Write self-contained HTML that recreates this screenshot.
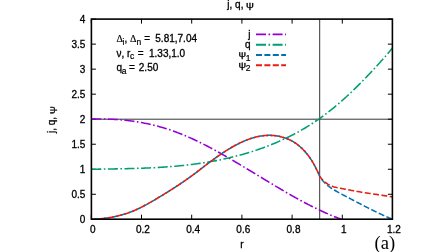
<!DOCTYPE html>
<html><head><meta charset="utf-8"><title>j, q, ψ</title>
<style>html,body{margin:0;padding:0;background:#fff;}svg{display:block;}text{font-family:"Liberation Sans",sans-serif;font-size:10px;fill:#000;stroke:#000;stroke-width:0.3px;}.sub{font-size:8.5px;stroke-width:0.2px;}.ser{font-family:"Liberation Serif",serif;stroke-width:0.15px;}</style></head><body>
<svg width="448" height="252" viewBox="0 0 448 252">
<rect width="448" height="252" fill="#fff"/>
<defs><clipPath id="cp"><rect x="-2" y="-5.7" width="12" height="10"/></clipPath></defs>
<path d="M91.30,219.2 v-4.5 M91.30,19.1 v4.5 M141.50,219.2 v-4.5 M141.50,19.1 v4.5 M191.70,219.2 v-4.5 M191.70,19.1 v4.5 M241.90,219.2 v-4.5 M241.90,19.1 v4.5 M292.10,219.2 v-4.5 M292.10,19.1 v4.5 M342.30,219.2 v-4.5 M342.30,19.1 v4.5 M392.50,219.2 v-4.5 M392.50,19.1 v4.5 M91.4,219.30 h4.5 M392.4,219.30 h-4.5 M91.4,194.28 h4.5 M392.4,194.28 h-4.5 M91.4,169.25 h4.5 M392.4,169.25 h-4.5 M91.4,144.23 h4.5 M392.4,144.23 h-4.5 M91.4,119.20 h4.5 M392.4,119.20 h-4.5 M91.4,94.18 h4.5 M392.4,94.18 h-4.5 M91.4,69.15 h4.5 M392.4,69.15 h-4.5 M91.4,44.13 h4.5 M392.4,44.13 h-4.5 M91.4,19.10 h4.5 M392.4,19.10 h-4.5" stroke="#000" stroke-width="1" fill="none"/>
<path d="M91.4,119.20 H392.4 M319.7,19.1 V219.2" stroke="#000" stroke-width="0.8" fill="none"/>
<g fill="none" stroke-width="1.55">
<path d="M91.30,119.21 L92.35,119.17 L93.39,119.14 L94.44,119.11 L95.49,119.09 L96.53,119.07 L97.58,119.05 L98.63,119.04 L99.67,119.03 L100.72,119.03 L101.77,119.03 L102.81,119.04 L103.86,119.05 L104.90,119.06 L105.95,119.08 L107.00,119.11 L108.04,119.13 L109.09,119.17 L110.14,119.20 L111.18,119.25 L112.23,119.29 L113.28,119.34 L114.32,119.40 L115.37,119.46 L116.42,119.52 L117.46,119.59 L118.51,119.67 L119.56,119.75 L120.60,119.83 L121.65,119.92 L122.70,120.01 L123.74,120.11 L124.79,120.22 L125.84,120.33 L126.88,120.44 L127.93,120.56 L128.98,120.68 L130.02,120.81 L131.07,120.95 L132.11,121.09 L133.16,121.23 L134.21,121.38 L135.25,121.54 L136.30,121.70 L137.35,121.86 L138.39,122.04 L139.44,122.21 L140.49,122.40 L141.53,122.58 L142.58,122.78 L143.63,122.98 L144.67,123.18 L145.72,123.39 L146.77,123.61 L147.81,123.83 L148.86,124.05 L149.91,124.29 L150.95,124.53 L152.00,124.77 L153.05,125.02 L154.09,125.28 L155.14,125.54 L156.19,125.81 L157.23,126.08 L158.28,126.36 L159.32,126.65 L160.37,126.94 L161.42,127.23 L162.46,127.54 L163.51,127.85 L164.56,128.16 L165.60,128.49 L166.65,128.82 L167.70,129.15 L168.74,129.49 L169.79,129.84 L170.84,130.19 L171.88,130.55 L172.93,130.92 L173.98,131.29 L175.02,131.67 L176.07,132.06 L177.12,132.45 L178.16,132.85 L179.21,133.25 L180.26,133.66 L181.30,134.08 L182.35,134.50 L183.39,134.93 L184.44,135.37 L185.49,135.81 L186.53,136.26 L187.58,136.71 L188.63,137.17 L189.67,137.63 L190.72,138.10 L191.77,138.57 L192.81,139.05 L193.86,139.53 L194.91,140.02 L195.95,140.52 L197.00,141.01 L198.05,141.52 L199.09,142.03 L200.14,142.54 L201.19,143.06 L202.23,143.58 L203.28,144.10 L204.33,144.63 L205.37,145.17 L206.42,145.71 L207.47,146.25 L208.51,146.80 L209.56,147.35 L210.60,147.90 L211.65,148.46 L212.70,149.02 L213.74,149.58 L214.79,150.15 L215.84,150.72 L216.88,151.29 L217.93,151.87 L218.98,152.45 L220.02,153.04 L221.07,153.62 L222.12,154.21 L223.16,154.80 L224.21,155.40 L225.26,155.99 L226.30,156.59 L227.35,157.20 L228.40,157.80 L229.44,158.41 L230.49,159.01 L231.54,159.63 L232.58,160.24 L233.63,160.85 L234.68,161.47 L235.72,162.09 L236.77,162.71 L237.81,163.33 L238.86,163.95 L239.91,164.57 L240.95,165.20 L242.00,165.83 L243.05,166.45 L244.09,167.08 L245.14,167.71 L246.19,168.34 L247.23,168.97 L248.28,169.61 L249.33,170.24 L250.37,170.87 L251.42,171.51 L252.47,172.14 L253.51,172.78 L254.56,173.41 L255.61,174.05 L256.65,174.68 L257.70,175.32 L258.75,175.96 L259.79,176.59 L260.84,177.23 L261.88,177.86 L262.93,178.50 L263.98,179.13 L265.02,179.77 L266.07,180.40 L267.12,181.03 L268.16,181.66 L269.21,182.30 L270.26,182.93 L271.30,183.56 L272.35,184.18 L273.40,184.81 L274.44,185.44 L275.49,186.06 L276.54,186.68 L277.58,187.31 L278.63,187.93 L279.68,188.54 L280.72,189.16 L281.77,189.78 L282.82,190.39 L283.86,191.00 L284.91,191.61 L285.96,192.22 L287.00,192.82 L288.05,193.43 L289.09,194.03 L290.14,194.62 L291.19,195.22 L292.23,195.81 L293.28,196.40 L294.33,196.99 L295.37,197.57 L296.42,198.16 L297.47,198.73 L298.51,199.31 L299.56,199.88 L300.61,200.45 L301.65,201.02 L302.70,201.58 L303.75,202.14 L304.79,202.69 L305.84,203.25 L306.89,203.80 L307.93,204.34 L308.98,204.88 L310.03,205.42 L311.07,205.95 L312.12,206.48 L313.17,207.00 L314.21,207.52 L315.26,208.04 L316.30,208.55 L317.35,209.06 L318.40,209.56 L319.44,210.06 L320.49,210.55 L321.54,211.04 L322.58,211.52 L323.63,212.00 L324.68,212.47 L325.72,212.94 L326.77,213.40 L327.82,213.86 L328.86,214.31 L329.91,214.76 L330.96,215.20 L332.00,215.63 L333.05,216.06 L334.10,216.49 L335.14,216.91 L336.19,217.32 L337.24,217.72 L338.28,218.12 L339.33,218.52 L340.37,218.90 L341.42,219.29" stroke="#9400d3" stroke-dasharray="10 2.5 1.6 2.5"/>
<path d="M91.30,169.25 L92.56,169.23 L93.82,169.22 L95.08,169.20 L96.34,169.18 L97.60,169.16 L98.86,169.14 L100.12,169.12 L101.38,169.10 L102.64,169.08 L103.90,169.07 L105.16,169.05 L106.42,169.03 L107.68,169.01 L108.94,168.99 L110.20,168.97 L111.46,168.95 L112.72,168.93 L113.98,168.91 L115.24,168.89 L116.51,168.86 L117.77,168.84 L119.03,168.82 L120.29,168.79 L121.55,168.77 L122.81,168.74 L124.07,168.72 L125.33,168.69 L126.59,168.66 L127.85,168.63 L129.11,168.60 L130.37,168.56 L131.63,168.53 L132.89,168.50 L134.15,168.46 L135.41,168.42 L136.67,168.38 L137.93,168.34 L139.19,168.30 L140.45,168.26 L141.71,168.21 L142.97,168.16 L144.23,168.11 L145.49,168.06 L146.75,168.01 L148.01,167.96 L149.27,167.90 L150.53,167.84 L151.79,167.78 L153.05,167.72 L154.31,167.65 L155.57,167.58 L156.83,167.51 L158.09,167.44 L159.35,167.37 L160.61,167.29 L161.87,167.21 L163.13,167.13 L164.39,167.04 L165.65,166.95 L166.92,166.86 L168.18,166.77 L169.44,166.68 L170.70,166.58 L171.96,166.47 L173.22,166.37 L174.48,166.26 L175.74,166.15 L177.00,166.04 L178.26,165.92 L179.52,165.80 L180.78,165.67 L182.04,165.55 L183.30,165.42 L184.56,165.28 L185.82,165.14 L187.08,165.00 L188.34,164.86 L189.60,164.71 L190.86,164.56 L192.12,164.40 L193.38,164.24 L194.64,164.08 L195.90,163.91 L197.16,163.74 L198.42,163.56 L199.68,163.38 L200.94,163.19 L202.20,163.01 L203.46,162.81 L204.72,162.62 L205.98,162.41 L207.24,162.21 L208.50,162.00 L209.76,161.78 L211.02,161.56 L212.28,161.34 L213.54,161.11 L214.80,160.87 L216.06,160.63 L217.33,160.39 L218.59,160.14 L219.85,159.89 L221.11,159.63 L222.37,159.37 L223.63,159.10 L224.89,158.82 L226.15,158.54 L227.41,158.26 L228.67,157.97 L229.93,157.67 L231.19,157.37 L232.45,157.07 L233.71,156.75 L234.97,156.44 L236.23,156.11 L237.49,155.78 L238.75,155.45 L240.01,155.11 L241.27,154.76 L242.53,154.41 L243.79,154.05 L245.05,153.69 L246.31,153.32 L247.57,152.94 L248.83,152.56 L250.09,152.17 L251.35,151.77 L252.61,151.37 L253.87,150.96 L255.13,150.55 L256.39,150.12 L257.65,149.70 L258.91,149.26 L260.17,148.82 L261.43,148.37 L262.69,147.92 L263.95,147.46 L265.21,146.99 L266.47,146.51 L267.74,146.03 L269.00,145.54 L270.26,145.04 L271.52,144.54 L272.78,144.03 L274.04,143.51 L275.30,142.98 L276.56,142.45 L277.82,141.91 L279.08,141.36 L280.34,140.80 L281.60,140.24 L282.86,139.66 L284.12,139.08 L285.38,138.49 L286.64,137.89 L287.90,137.28 L289.16,136.66 L290.42,136.03 L291.68,135.39 L292.94,134.75 L294.20,134.09 L295.46,133.42 L296.72,132.75 L297.98,132.06 L299.24,131.36 L300.50,130.65 L301.76,129.93 L303.02,129.20 L304.28,128.46 L305.54,127.71 L306.80,126.95 L308.06,126.17 L309.32,125.38 L310.58,124.58 L311.84,123.77 L313.10,122.95 L314.36,122.11 L315.62,121.26 L316.88,120.40 L318.15,119.53 L319.41,118.64 L320.67,117.75 L321.93,116.84 L323.19,115.91 L324.45,114.98 L325.71,114.03 L326.97,113.07 L328.23,112.10 L329.49,111.12 L330.75,110.12 L332.01,109.11 L333.27,108.09 L334.53,107.06 L335.79,106.01 L337.05,104.95 L338.31,103.88 L339.57,102.80 L340.83,101.70 L342.09,100.60 L343.35,99.48 L344.61,98.35 L345.87,97.20 L347.13,96.05 L348.39,94.88 L349.65,93.71 L350.91,92.52 L352.17,91.32 L353.43,90.11 L354.69,88.89 L355.95,87.66 L357.21,86.42 L358.47,85.17 L359.73,83.91 L360.99,82.64 L362.25,81.36 L363.51,80.07 L364.77,78.77 L366.03,77.46 L367.29,76.14 L368.56,74.82 L369.82,73.48 L371.08,72.14 L372.34,70.79 L373.60,69.43 L374.86,68.06 L376.12,66.68 L377.38,65.30 L378.64,63.90 L379.90,62.50 L381.16,61.09 L382.42,59.68 L383.68,58.26 L384.94,56.83 L386.20,55.39 L387.46,53.95 L388.72,52.50 L389.98,51.04 L391.24,49.58 L392.50,48.11" stroke="#009e73" stroke-dasharray="10 2.5 1.6 2.5"/>
<path d="M91.30,219.30 L92.18,219.26 L93.06,219.22 L93.94,219.18 L94.83,219.13 L95.71,219.08 L96.59,219.02 L97.47,218.96 L98.35,218.90 L99.23,218.83 L100.11,218.75 L100.99,218.67 L101.88,218.58 L102.76,218.49 L103.64,218.40 L104.52,218.29 L105.40,218.19 L106.28,218.07 L107.16,217.95 L108.04,217.83 L108.93,217.69 L109.81,217.55 L110.69,217.41 L111.57,217.25 L112.45,217.09 L113.33,216.93 L114.21,216.75 L115.10,216.57 L115.98,216.38 L116.86,216.19 L117.74,215.98 L118.62,215.77 L119.50,215.55 L120.38,215.32 L121.26,215.09 L122.15,214.84 L123.03,214.59 L123.91,214.33 L124.79,214.05 L125.67,213.77 L126.55,213.48 L127.43,213.19 L128.32,212.88 L129.20,212.56 L130.08,212.23 L130.96,211.89 L131.84,211.55 L132.72,211.19 L133.60,210.82 L134.48,210.45 L135.37,210.06 L136.25,209.67 L137.13,209.27 L138.01,208.86 L138.89,208.44 L139.77,208.01 L140.65,207.58 L141.53,207.14 L142.42,206.69 L143.30,206.23 L144.18,205.77 L145.06,205.31 L145.94,204.83 L146.82,204.35 L147.70,203.87 L148.59,203.38 L149.47,202.89 L150.35,202.39 L151.23,201.88 L152.11,201.37 L152.99,200.86 L153.87,200.35 L154.75,199.83 L155.64,199.31 L156.52,198.78 L157.40,198.25 L158.28,197.72 L159.16,197.19 L160.04,196.65 L160.92,196.12 L161.80,195.58 L162.69,195.04 L163.57,194.50 L164.45,193.96 L165.33,193.41 L166.21,192.87 L167.09,192.32 L167.97,191.77 L168.86,191.22 L169.74,190.67 L170.62,190.11 L171.50,189.55 L172.38,188.99 L173.26,188.43 L174.14,187.86 L175.02,187.29 L175.91,186.72 L176.79,186.15 L177.67,185.57 L178.55,184.99 L179.43,184.40 L180.31,183.81 L181.19,183.22 L182.07,182.63 L182.96,182.03 L183.84,181.43 L184.72,180.82 L185.60,180.21 L186.48,179.60 L187.36,178.98 L188.24,178.36 L189.13,177.73 L190.01,177.10 L190.89,176.46 L191.77,175.82 L192.65,175.17 L193.53,174.52 L194.41,173.87 L195.29,173.21 L196.18,172.54 L197.06,171.87 L197.94,171.20 L198.82,170.52 L199.70,169.84 L200.58,169.16 L201.46,168.48 L202.35,167.80 L203.23,167.12 L204.11,166.44 L204.99,165.76 L205.87,165.08 L206.75,164.41 L207.63,163.74 L208.51,163.07 L209.40,162.41 L210.28,161.75 L211.16,161.09 L212.04,160.44 L212.92,159.79 L213.80,159.15 L214.68,158.51 L215.56,157.88 L216.45,157.25 L217.33,156.63 L218.21,156.01 L219.09,155.40 L219.97,154.79 L220.85,154.19 L221.73,153.60 L222.62,153.01 L223.50,152.43 L224.38,151.85 L225.26,151.28 L226.14,150.72 L227.02,150.17 L227.90,149.62 L228.78,149.08 L229.67,148.55 L230.55,148.03 L231.43,147.51 L232.31,147.00 L233.19,146.50 L234.07,146.01 L234.95,145.53 L235.83,145.06 L236.72,144.59 L237.60,144.14 L238.48,143.69 L239.36,143.25 L240.24,142.83 L241.12,142.41 L242.00,142.01 L242.89,141.61 L243.77,141.22 L244.65,140.85 L245.53,140.48 L246.41,140.13 L247.29,139.79 L248.17,139.46 L249.05,139.14 L249.94,138.83 L250.82,138.53 L251.70,138.25 L252.58,137.98 L253.46,137.72 L254.34,137.47 L255.22,137.23 L256.11,137.01 L256.99,136.80 L257.87,136.61 L258.75,136.42 L259.63,136.25 L260.51,136.10 L261.39,135.96 L262.27,135.83 L263.16,135.72 L264.04,135.62 L264.92,135.53 L265.80,135.46 L266.68,135.41 L267.56,135.37 L268.44,135.34 L269.32,135.34 L270.21,135.34 L271.09,135.36 L271.97,135.40 L272.85,135.46 L273.73,135.53 L274.61,135.61 L275.49,135.72 L276.38,135.84 L277.26,135.98 L278.14,136.13 L279.02,136.30 L279.90,136.49 L280.78,136.70 L281.66,136.92 L282.54,137.17 L283.43,137.43 L284.31,137.71 L285.19,138.00 L286.07,138.32 L286.95,138.66 L287.83,139.01 L288.71,139.39 L289.59,139.79 L290.48,140.22 L291.36,140.67 L292.24,141.14 L293.12,141.64 L294.00,142.18 L294.88,142.74 L295.76,143.33 L296.65,143.95 L297.53,144.60 L298.41,145.29 L299.29,146.01 L300.17,146.77 L301.05,147.57 L301.93,148.40 L302.81,149.27 L303.70,150.19 L304.58,151.14 L305.46,152.13 L306.34,153.17 L307.22,154.26 L308.10,155.39 L308.98,156.57 L309.86,157.80 L310.75,159.10 L311.63,160.45 L312.51,161.88 L313.39,163.37 L314.27,164.94 L315.15,166.59 L316.03,168.32 L316.92,170.13 L317.80,172.04 L318.68,174.04 L319.56,176.14 L320.38,177.42 L321.20,178.59 L322.02,179.68 L322.84,180.70 L323.66,181.65 L324.48,182.55 L325.30,183.38 L326.12,184.16 L326.94,184.90 L327.75,185.59 L328.57,186.24 L329.39,186.85 L330.21,187.43 L331.03,187.99 L331.85,188.52 L332.67,189.04 L333.49,189.55 L334.31,190.04 L335.13,190.53 L335.95,191.01 L336.77,191.48 L337.59,191.94 L338.41,192.40 L339.23,192.86 L340.05,193.30 L340.87,193.75 L341.69,194.19 L342.51,194.62 L343.33,195.06 L344.15,195.49 L344.97,195.92 L345.79,196.34 L346.60,196.77 L347.42,197.20 L348.24,197.63 L349.06,198.06 L349.88,198.48 L350.70,198.91 L351.52,199.34 L352.34,199.77 L353.16,200.20 L353.98,200.63 L354.80,201.06 L355.62,201.49 L356.44,201.91 L357.26,202.34 L358.08,202.77 L358.90,203.20 L359.72,203.62 L360.54,204.05 L361.36,204.47 L362.18,204.89 L363.00,205.32 L363.82,205.74 L364.64,206.16 L365.45,206.58 L366.27,207.00 L367.09,207.42 L367.91,207.83 L368.73,208.25 L369.55,208.66 L370.37,209.07 L371.19,209.48 L372.01,209.89 L372.83,210.29 L373.65,210.70 L374.47,211.10 L375.29,211.50 L376.11,211.90 L376.93,212.29 L377.75,212.69 L378.57,213.08 L379.39,213.47 L380.21,213.85 L381.03,214.24 L381.85,214.62 L382.67,215.00 L383.48,215.37 L384.30,215.74 L385.12,216.11 L385.94,216.48 L386.76,216.84 L387.58,217.20 L388.40,217.56 L389.22,217.92 L390.04,218.27 L390.86,218.61 L391.68,218.96 L392.50,219.30" stroke="#0072b2" stroke-dasharray="6 2.4" stroke-dashoffset="4.2"/>
<path d="M91.30,219.30 L92.18,219.26 L93.06,219.22 L93.94,219.18 L94.83,219.13 L95.71,219.08 L96.59,219.02 L97.47,218.96 L98.35,218.90 L99.23,218.83 L100.11,218.75 L100.99,218.67 L101.88,218.58 L102.76,218.49 L103.64,218.40 L104.52,218.29 L105.40,218.19 L106.28,218.07 L107.16,217.95 L108.04,217.83 L108.93,217.69 L109.81,217.55 L110.69,217.41 L111.57,217.25 L112.45,217.09 L113.33,216.93 L114.21,216.75 L115.10,216.57 L115.98,216.38 L116.86,216.19 L117.74,215.98 L118.62,215.77 L119.50,215.55 L120.38,215.32 L121.26,215.09 L122.15,214.84 L123.03,214.59 L123.91,214.33 L124.79,214.05 L125.67,213.77 L126.55,213.48 L127.43,213.19 L128.32,212.88 L129.20,212.56 L130.08,212.23 L130.96,211.89 L131.84,211.55 L132.72,211.19 L133.60,210.82 L134.48,210.45 L135.37,210.06 L136.25,209.67 L137.13,209.27 L138.01,208.86 L138.89,208.44 L139.77,208.01 L140.65,207.58 L141.53,207.14 L142.42,206.69 L143.30,206.23 L144.18,205.77 L145.06,205.31 L145.94,204.83 L146.82,204.35 L147.70,203.87 L148.59,203.38 L149.47,202.89 L150.35,202.39 L151.23,201.88 L152.11,201.37 L152.99,200.86 L153.87,200.35 L154.75,199.83 L155.64,199.31 L156.52,198.78 L157.40,198.25 L158.28,197.72 L159.16,197.19 L160.04,196.65 L160.92,196.12 L161.80,195.58 L162.69,195.04 L163.57,194.50 L164.45,193.96 L165.33,193.41 L166.21,192.87 L167.09,192.32 L167.97,191.77 L168.86,191.22 L169.74,190.67 L170.62,190.11 L171.50,189.55 L172.38,188.99 L173.26,188.43 L174.14,187.86 L175.02,187.29 L175.91,186.72 L176.79,186.15 L177.67,185.57 L178.55,184.99 L179.43,184.40 L180.31,183.81 L181.19,183.22 L182.07,182.63 L182.96,182.03 L183.84,181.43 L184.72,180.82 L185.60,180.21 L186.48,179.60 L187.36,178.98 L188.24,178.36 L189.13,177.73 L190.01,177.10 L190.89,176.46 L191.77,175.82 L192.65,175.17 L193.53,174.52 L194.41,173.87 L195.29,173.21 L196.18,172.54 L197.06,171.87 L197.94,171.20 L198.82,170.52 L199.70,169.84 L200.58,169.16 L201.46,168.48 L202.35,167.80 L203.23,167.12 L204.11,166.44 L204.99,165.76 L205.87,165.08 L206.75,164.41 L207.63,163.74 L208.51,163.07 L209.40,162.41 L210.28,161.75 L211.16,161.09 L212.04,160.44 L212.92,159.79 L213.80,159.15 L214.68,158.51 L215.56,157.88 L216.45,157.25 L217.33,156.63 L218.21,156.01 L219.09,155.40 L219.97,154.79 L220.85,154.19 L221.73,153.60 L222.62,153.01 L223.50,152.43 L224.38,151.85 L225.26,151.28 L226.14,150.72 L227.02,150.17 L227.90,149.62 L228.78,149.08 L229.67,148.55 L230.55,148.03 L231.43,147.51 L232.31,147.00 L233.19,146.50 L234.07,146.01 L234.95,145.53 L235.83,145.06 L236.72,144.59 L237.60,144.14 L238.48,143.69 L239.36,143.25 L240.24,142.83 L241.12,142.41 L242.00,142.01 L242.89,141.61 L243.77,141.22 L244.65,140.85 L245.53,140.48 L246.41,140.13 L247.29,139.79 L248.17,139.46 L249.05,139.14 L249.94,138.83 L250.82,138.53 L251.70,138.25 L252.58,137.98 L253.46,137.72 L254.34,137.47 L255.22,137.23 L256.11,137.01 L256.99,136.80 L257.87,136.61 L258.75,136.42 L259.63,136.25 L260.51,136.10 L261.39,135.96 L262.27,135.83 L263.16,135.72 L264.04,135.62 L264.92,135.53 L265.80,135.46 L266.68,135.41 L267.56,135.37 L268.44,135.34 L269.32,135.34 L270.21,135.34 L271.09,135.36 L271.97,135.40 L272.85,135.46 L273.73,135.53 L274.61,135.61 L275.49,135.72 L276.38,135.84 L277.26,135.98 L278.14,136.13 L279.02,136.30 L279.90,136.49 L280.78,136.70 L281.66,136.92 L282.54,137.17 L283.43,137.43 L284.31,137.71 L285.19,138.00 L286.07,138.32 L286.95,138.66 L287.83,139.01 L288.71,139.39 L289.59,139.79 L290.48,140.22 L291.36,140.67 L292.24,141.14 L293.12,141.64 L294.00,142.18 L294.88,142.74 L295.76,143.33 L296.65,143.95 L297.53,144.60 L298.41,145.29 L299.29,146.01 L300.17,146.77 L301.05,147.57 L301.93,148.40 L302.81,149.27 L303.70,150.19 L304.58,151.14 L305.46,152.13 L306.34,153.17 L307.22,154.26 L308.10,155.39 L308.98,156.57 L309.86,157.80 L310.75,159.10 L311.63,160.45 L312.51,161.88 L313.39,163.37 L314.27,164.94 L315.15,166.59 L316.03,168.32 L316.92,170.13 L317.80,172.04 L318.68,174.04 L319.56,176.14 L320.38,177.25 L321.20,178.26 L322.02,179.19 L322.84,180.06 L323.66,180.87 L324.48,181.62 L325.30,182.30 L326.12,182.94 L326.94,183.52 L327.75,184.05 L328.57,184.53 L329.39,184.98 L330.21,185.38 L331.03,185.75 L331.85,186.08 L332.67,186.38 L333.49,186.66 L334.31,186.90 L335.13,187.13 L335.95,187.34 L336.77,187.53 L337.59,187.71 L338.41,187.88 L339.23,188.04 L340.05,188.19 L340.87,188.35 L341.69,188.51 L342.51,188.66 L343.33,188.82 L344.15,188.98 L344.97,189.14 L345.79,189.29 L346.60,189.45 L347.42,189.61 L348.24,189.77 L349.06,189.92 L349.88,190.08 L350.70,190.24 L351.52,190.39 L352.34,190.54 L353.16,190.70 L353.98,190.85 L354.80,191.00 L355.62,191.15 L356.44,191.29 L357.26,191.44 L358.08,191.58 L358.90,191.72 L359.72,191.86 L360.54,192.00 L361.36,192.14 L362.18,192.27 L363.00,192.40 L363.82,192.53 L364.64,192.66 L365.45,192.79 L366.27,192.92 L367.09,193.04 L367.91,193.17 L368.73,193.29 L369.55,193.42 L370.37,193.54 L371.19,193.66 L372.01,193.78 L372.83,193.91 L373.65,194.03 L374.47,194.15 L375.29,194.27 L376.11,194.39 L376.93,194.51 L377.75,194.63 L378.57,194.76 L379.39,194.88 L380.21,195.00 L381.03,195.12 L381.85,195.25 L382.67,195.37 L383.48,195.50 L384.30,195.63 L385.12,195.75 L385.94,195.88 L386.76,196.01 L387.58,196.15 L388.40,196.28 L389.22,196.42 L390.04,196.55 L390.86,196.69 L391.68,196.83 L392.50,196.98" stroke="#e51e10" stroke-dasharray="6 2.4"/>
<path d="M256,34.40 H286" stroke="#9400d3" stroke-dasharray="10 2.5 1.6 2.5" stroke-width="1.9"/>
<path d="M256,44.70 H286" stroke="#009e73" stroke-dasharray="10 2.5 1.6 2.5" stroke-width="1.9"/>
<path d="M256,55.00 H286" stroke="#0072b2" stroke-dasharray="6 2.4" stroke-width="1.9"/>
<path d="M256,65.30 H286" stroke="#e51e10" stroke-dasharray="6 2.4" stroke-width="1.9"/>
</g>
<rect x="91.4" y="19.1" width="301.00" height="200.10" fill="none" stroke="#000" stroke-width="1.6"/>
<text x="92.70" y="233.1" text-anchor="middle">0</text>
<text x="142.90" y="233.1" text-anchor="middle">0.2</text>
<text x="193.10" y="233.1" text-anchor="middle">0.4</text>
<text x="243.30" y="233.1" text-anchor="middle">0.6</text>
<text x="293.50" y="233.1" text-anchor="middle">0.8</text>
<text x="343.70" y="233.1" text-anchor="middle">1</text>
<text x="393.90" y="233.1" text-anchor="middle">1.2</text>
<text x="85.4" y="223.00" text-anchor="end">0</text>
<text x="85.4" y="197.97" text-anchor="end">0.5</text>
<text x="85.4" y="172.95" text-anchor="end">1</text>
<text x="85.4" y="147.93" text-anchor="end">1.5</text>
<text x="85.4" y="122.90" text-anchor="end">2</text>
<text x="85.4" y="97.88" text-anchor="end">2.5</text>
<text x="85.4" y="72.85" text-anchor="end">3</text>
<text x="85.4" y="47.83" text-anchor="end">3.5</text>
<text x="85.4" y="22.80" text-anchor="end">4</text>
<text x="227.3" y="7.9">j, q,</text>
<text transform="translate(246.0,7.9) scale(1.1,0.9)" clip-path="url(#cp)">ψ</text>
<text transform="translate(55.3,119.7) rotate(-90)" x="-13.4" y="0">j, q,</text>
<text transform="translate(55.3,119.7) rotate(-90) translate(5.6,0) scale(1.1,0.9)" clip-path="url(#cp)">ψ</text>
<text x="242" y="248.4" text-anchor="middle">r</text>
<text class="ser" x="374.6" y="248.6" style="font-size:18.5px;stroke:none">(a)</text>
<text x="250.6" y="37.5" text-anchor="end">j</text>
<text x="250.6" y="47.8" text-anchor="end">q</text>
<text transform="translate(238.6,57.3) scale(1.06,0.9)" clip-path="url(#cp)">ψ</text>
<text class="sub" x="245.7" y="60.5">1</text>
<text transform="translate(238.6,67.6) scale(1.06,0.9)" clip-path="url(#cp)">ψ</text>
<text class="sub" x="245.7" y="70.8">2</text>
<text y="42.1"><tspan x="116.4" class="ser">Δ</tspan><tspan class="sub" x="122.6" dy="2.8">i</tspan><tspan dy="-2.8">,</tspan><tspan x="130" class="ser">Δ</tspan><tspan class="sub" x="136.4" dy="2.8">n</tspan><tspan x="144.2" dy="-2.8">=</tspan><tspan x="155.3">5.81,7.04</tspan></text>
<text y="56.6"><tspan x="116.6">ν,</tspan><tspan x="126.9">r</tspan><tspan class="sub" x="129.9" dy="2.8">c</tspan><tspan x="137.8" dy="-2.8">=</tspan><tspan x="149.0">1.33,1.0</tspan></text>
<text y="71.0"><tspan x="116.4">q</tspan><tspan class="sub" x="121.8" dy="2.8">a</tspan><tspan x="129.0" dy="-2.8">=</tspan><tspan x="138.8">2.50</tspan></text>
</svg></body></html>
